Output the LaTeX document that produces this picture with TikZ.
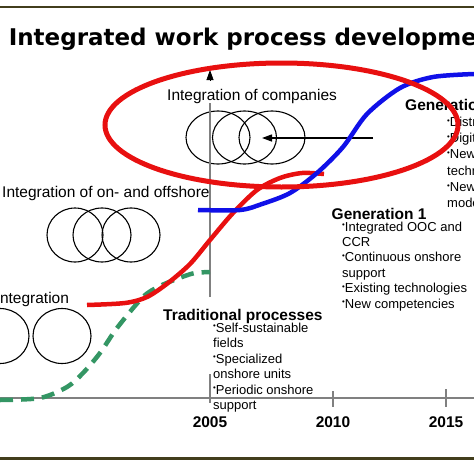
\documentclass[tikz,border=0pt]{standalone}
\usepackage{fontspec}
\setmainfont{Liberation Sans}
\newfontfamily\titlefont{DejaVu Sans}
\usetikzlibrary{arrows.meta}

\definecolor{frameolive}{RGB}{66,62,28}
\definecolor{dashgreen}{RGB}{52,150,100}
\definecolor{axisgray}{RGB}{128,128,128}
\definecolor{curvered}{RGB}{232,16,16}
\definecolor{curveblue}{RGB}{16,16,232}

\newcommand{\bul}{\raisebox{.45ex}{\scalebox{.6}{\textbullet}}}

\begin{document}
\begin{tikzpicture}[>={Triangle[length=10pt,width=7pt]}, x=1pt, y=-1pt,
	ring/.style={draw, line width=1.1pt},
	lbl/.style={inner sep=0pt, anchor=base west, font=\fontsize{15.5}{18}\selectfont},
	head/.style={inner sep=0pt, anchor=base west, font=\fontsize{15.5}{18}\selectfont\bfseries},
	bullets/.style={inner sep=0pt, anchor=base west, align=left, font=\fontsize{13}{15.4}\selectfont},
	year/.style={inner sep=0pt, anchor=base, font=\fontsize{15.5}{18}\selectfont\bfseries},
	axisline/.style={axisgray, line width=1.1pt},
	curve/.style={line width=4.5pt}]
	
	\useasboundingbox (0,0) rectangle (474,474);
	\clip (0,0) rectangle (474,474);
	
	% frame lines
	\draw[frameolive, line width=2.5pt] (0,7) -- (474,7);
	\draw[frameolive, line width=3pt] (0,458) -- (474,458);
	
	\node[anchor=base west, inner sep=0pt, font=\titlefont\fontsize{23}{27}\selectfont\bfseries] (title) at (8.6,45) {Integrated work process development};
	
	% integration stages
	\node[lbl] (complbl) at (167,100) {Integration of companies};
	\node[lbl] (shorelbl) at (2,197) {Integration of on- and offshore};
	\node[lbl] (intlbl) at (-4.5,303) {Integration};
	
	\draw[ring] (218,137.5) ellipse [x radius=32pt, y radius=26.5pt];
	\draw[ring] (244.5,137.5) ellipse [x radius=32pt, y radius=26.5pt];
	\draw[ring] (272,137.5) ellipse [x radius=33pt, y radius=26.5pt];
	
	\draw[ring] (75,235) ellipse [x radius=28pt, y radius=27pt];
	\draw[ring] (102,235) ellipse [x radius=29pt, y radius=27pt];
	\draw[ring] (131,235) ellipse [x radius=29pt, y radius=27pt];
	
	\draw[ring] (0,336) ellipse [x radius=29pt, y radius=27.5pt];
	\draw[ring] (62,336) ellipse [x radius=29pt, y radius=27.5pt];
	
	\coordinate (arrowtail) at (373,138);
	\coordinate (arrowhead) at (262,138);
	\draw[->, line width=1.3pt] (arrowtail) -- (arrowhead);
	
	% generations (lists placed at the baseline of their last line)
	\node[head] (gentwo) at (405,110) {Generation 2};
	\node[bullets, font=\fontsize{13}{16.2}\selectfont] (gentwolist) at (447,207.5)
	{\bul Distributed\\\bul Digital\\\bul New\\technology\\\bul New\\models};
	
	\node[head] (genone) at (331.5,219) {Generation 1};
	\node[bullets] (genonelist) at (342,308)
	{\bul Integrated OOC and\\CCR\\\bul Continuous onshore\\support\\\bul Existing technologies\\\bul New competencies};
	
	\node[head] (trad) at (163,320) {Traditional processes};
	\node[bullets, font=\fontsize{13}{15.5}\selectfont] (tradlist) at (213,409.5)
	{\bul Self-sustainable\\fields\\\bul Specialized\\onshore units\\\bul Periodic onshore\\support};
	
	% time line
	\coordinate (tstart) at (0,398);
	\coordinate (tend) at (474,398);
	\draw[axisline] (tstart) -- (tend);
	\draw[axisline] (210,374) -- (210,403);
	\draw[axisline] (333,391) -- (333,407);
	\draw[axisline] (446,389) -- (446,407);
	\node[year] (yfive) at (210,427) {2005};
	\node[year] (yten) at (333,427) {2010};
	\node[year] (yfifteen) at (446,427) {2015};
	
	\coordinate (vbase) at (210,297);
	\coordinate (vtip) at (210,81);
	\coordinate (vtop) at (210,70);
	\draw[axisline] (vbase) -- (complbl.south -| vbase);
	\draw[->, line width=.8pt] (vtip) -- (vtop);
	
	% curves
	\draw[curve, dashgreen, dash pattern=on 13pt off 8pt] plot[smooth] coordinates
	{(0,400) (40,398) (67,387) (83,373) (100,353) (117,328) (143,297) (160,286) (182,277) (195,273) (210,272)};
	\draw[curve, curvered] plot[smooth] coordinates
	{(87,305) (125,303) (147,297) (168,283) (190,264) (210,240) (233,213) (257,190) (280,178) (302,173) (324,174)};
	\draw[curve, curveblue] plot[smooth] coordinates
	{(198,210) (240,210) (262,204) (290,193) (317,173) (343,147) (367,114) (400,88) (433,77) (474,74)};
	
	\draw[curvered, line width=5pt] (281.5,125) ellipse [x radius=176.5pt, y radius=62pt];
\end{tikzpicture}
\end{document}
